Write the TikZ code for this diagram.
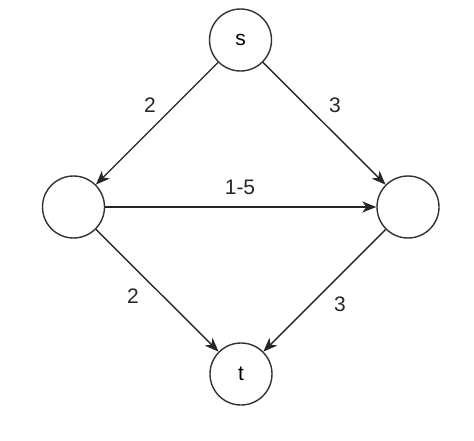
\documentclass[tikz,border=0pt]{standalone}
\usepackage{fontspec}
\setmainfont{Liberation Sans}
\usetikzlibrary{arrows.meta}
\begin{document}
\begin{tikzpicture}[x=1pt,y=-1pt,
  vert/.style={circle,draw=black!80,line width=1.4pt,minimum size=62pt,inner sep=0pt,font=\fontsize{21}{25}\selectfont},
  edge/.style={draw=black!85,line width=1.4pt,-{Stealth[length=14pt,width=11pt,inset=4pt]}},
  lab/.style={font=\fontsize{21}{25}\selectfont,text=black!85}]
\useasboundingbox (0,0) rectangle (474,440);
\node[vert] (s) at (240.5,40) {s};
\node[vert] (a) at (73.5,207) {};
\node[vert] (b) at (408,207) {};
\node[vert] (t) at (241,374) {t};
\draw[edge] (s) -- (a);
\draw[edge] (s) -- (b);
\draw[edge] (a) -- (b);
\draw[edge] (a) -- (t);
\draw[edge] (b) -- (t);
\node[lab] (l1) at (150,105) {2};
\node[lab] (l2) at (335,105) {3};
\node[lab] (l3) at (240,187) {1-5};
\node[lab] (l4) at (133,296) {2};
\node[lab] (l5) at (340,304) {3};
\end{tikzpicture}
\end{document}
